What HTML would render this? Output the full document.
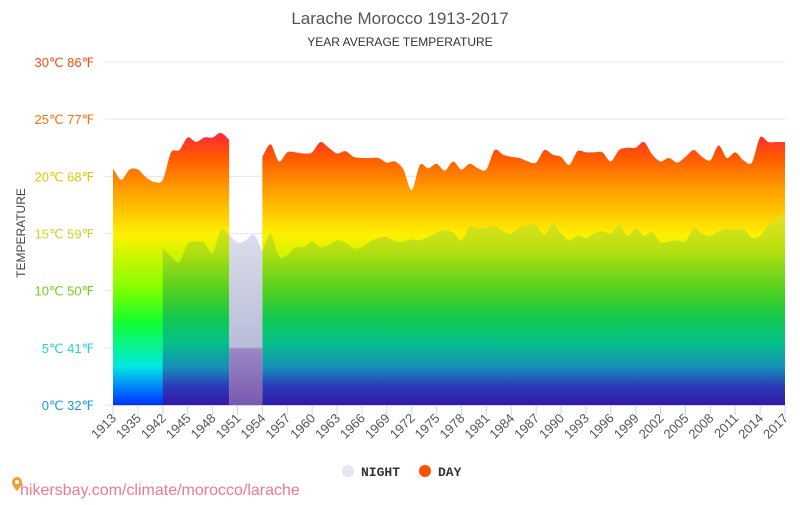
<!DOCTYPE html>
<html><head><meta charset="utf-8"><style>
body{margin:0;background:#fff;width:800px;height:500px;overflow:hidden;font-family:"Liberation Sans",sans-serif}
</style></head><body>
<svg id="chart" width="800" height="500" xmlns="http://www.w3.org/2000/svg" font-family="Liberation Sans, sans-serif">
<defs>
<linearGradient id="gDay" gradientUnits="userSpaceOnUse" x1="0" y1="405" x2="0" y2="130">
<stop offset="0" stop-color="#0030ff"/><stop offset="0.05" stop-color="#0070ff"/><stop offset="0.14" stop-color="#00e8e0"/><stop offset="0.3" stop-color="#10ff30"/><stop offset="0.42" stop-color="#80ff00"/><stop offset="0.62" stop-color="#fff000"/><stop offset="0.78" stop-color="#ffa000"/><stop offset="0.9" stop-color="#ff5a00"/><stop offset="1" stop-color="#ff2040"/>
</linearGradient>
<linearGradient id="gNight" gradientUnits="userSpaceOnUse" x1="0" y1="405" x2="0" y2="215">
<stop offset="0" stop-color="#3318a8"/><stop offset="0.1" stop-color="#2a3cb8"/><stop offset="0.2" stop-color="#1590b8"/><stop offset="0.33" stop-color="#05c08a"/><stop offset="0.45" stop-color="#10c850"/><stop offset="0.6" stop-color="#50d020"/><stop offset="0.82" stop-color="#b8e010"/><stop offset="1" stop-color="#e8e020"/>
</linearGradient>
<linearGradient id="gGrey" gradientUnits="userSpaceOnUse" x1="0" y1="405" x2="0" y2="230">
<stop offset="0" stop-color="#7a58b0"/><stop offset="0.32" stop-color="#9a88c4"/><stop offset="0.33" stop-color="#b8bcd8"/><stop offset="1" stop-color="#dcdfeb"/>
</linearGradient>
</defs>
<text x="400" y="24" text-anchor="middle" font-size="17" fill="#555">Larache Morocco 1913-2017</text>
<text x="400" y="46" text-anchor="middle" font-size="12" fill="#333">YEAR AVERAGE TEMPERATURE</text>
<text transform="translate(25,233) rotate(-90)" text-anchor="middle" font-size="12" fill="#444">TEMPERATURE</text>
<g id="grid"></g><g id="areas"></g><g id="xaxis"></g><g id="yaxis"></g>
<g>
<g><circle cx="348" cy="471" r="6" fill="#e4e7f0"/><text x="361" y="476" font-size="13" font-weight="bold" fill="#333" font-family="Liberation Mono, monospace">NIGHT</text></g>
<g><circle cx="425" cy="471" r="6" fill="#ff5000"/><text x="438" y="476" font-size="13" font-weight="bold" fill="#333" font-family="Liberation Mono, monospace">DAY</text></g>
</g>
<g><path d="M12 482a5 5 0 0 1 10 0c0 4-5 9-5 9s-5-5-5-9z" fill="#f0a030"/><circle cx="17" cy="482" r="2" fill="#fff"/><text x="20" y="495" font-size="16" fill="#f07890">hikersbay.com/climate/morocco/larache</text></g>
</svg>
<script>
const tickLabels=["1913","1935","1942","1945","1948","1951","1954","1957","1960","1963","1966","1969","1972","1975","1978","1981","1984","1987","1990","1993","1996","1999","2002","2005","2008","2011","2014","2017"];
const categories=["1913","1914","1915","1935","1936","1937"];
for(let y=1942;y<=2017;y++)categories.push(String(y));
const dayValues=[20.7,19.7,20.6,20.6,19.9,19.5,19.7,22.1,22.3,23.4,23.0,23.4,23.4,23.8,23.2,null,null,null,21.7,22.8,21.3,22.1,22.1,22.0,22.1,23.0,22.5,22.0,22.2,21.7,21.6,21.6,21.6,21.2,21.3,20.6,18.8,21.0,20.7,21.1,20.5,21.3,20.6,21.1,20.7,20.6,22.3,21.9,21.7,21.6,21.3,21.2,22.3,21.9,21.7,21.0,22.2,22.1,22.1,22.1,21.3,22.3,22.5,22.5,23.0,21.9,21.3,21.6,21.2,21.7,22.3,21.7,21.4,22.7,21.6,22.1,21.4,21.2,23.4,23.0,23.0,23.0];
const nightValues=[null,null,null,null,null,null,13.7,13.0,12.5,14.1,14.3,14.2,13.3,15.3,14.9,14.2,14.4,14.9,13.4,15.0,13.0,13.1,13.8,13.8,14.3,13.8,14.0,14.4,14.2,13.7,13.8,14.3,14.6,14.7,14.3,14.3,14.5,14.4,14.7,15.1,15.3,15.1,14.4,15.6,15.5,15.5,15.7,15.2,15.0,15.5,15.7,15.7,14.9,15.9,15.0,14.4,14.8,14.6,15.0,15.2,15.0,15.7,14.8,15.4,14.8,15.1,14.2,14.3,14.4,14.3,15.5,15.0,14.8,15.2,15.4,15.3,15.4,14.6,14.8,15.7,16.2,16.8];
const yTicks=[0,5,10,15,20,25,30];
const yColors=["#1a9be0","#20d8d0","#70d020","#c8d820","#e0c800","#ff7010","#ff4a10"];
const NS="http://www.w3.org/2000/svg";
const X0=113,X1=785,Y0=405,Y1=62;
const xs=i=>X0+(X1-X0)*i/(categories.length-1);
const ys=v=>Y0-(Y0-Y1)*v/30;
function el(t,a,p){const e=document.createElementNS(NS,t);for(const k in a)e.setAttribute(k,a[k]);p.appendChild(e);return e;}
function curve(pts){let d="M"+pts[0][0]+","+pts[0][1];for(let i=0;i<pts.length-1;i++){const p0=pts[i-1]||pts[i],p1=pts[i],p2=pts[i+1],p3=pts[i+2]||p2;const t=0.3;d+=" C"+(p1[0]+(p2[0]-p0[0])*t/2)+","+(p1[1]+(p2[1]-p0[1])*t/2)+" "+(p2[0]-(p3[0]-p1[0])*t/2)+","+(p2[1]-(p3[1]-p1[1])*t/2)+" "+p2[0]+","+p2[1];}return d;}
function segs(vals,test){const out=[];let cur=[];vals.forEach((v,i)=>{if(v!=null&&test(i)){cur.push(i);}else{if(cur.length)out.push(cur);cur=[];}});if(cur.length)out.push(cur);return out;}
function area(idx,vals,fill,name,g){const pts=idx.map(i=>[xs(i),ys(vals[i])]);const d=curve(pts)+" L"+pts[pts.length-1][0]+","+Y0+" L"+pts[0][0]+","+Y0+"Z";const p=el("path",{d:d,fill:fill},g);

}
const grid=document.getElementById("grid"),areas=document.getElementById("areas"),xa=document.getElementById("xaxis"),ya=document.getElementById("yaxis");
yTicks.forEach((v,k)=>{const l=el("line",{x1:105,x2:785,y1:ys(v),y2:ys(v),stroke:"#e6e6e6"},grid);


const t=el("text",{x:94,y:ys(v)+5,"text-anchor":"end","font-size":13,fill:yColors[k]},ya);t.textContent=v+"℃ "+Math.round(v*9/5+32)+"℉";

});
segs(dayValues,()=>true).forEach(s=>area(s,dayValues,"url(#gDay)","day-area",areas));
segs(nightValues,i=>dayValues[i]!=null).forEach(s=>area(s,nightValues,"url(#gNight)","night-area",areas));
segs(nightValues,i=>dayValues[i]==null||dayValues[i-1]==null||dayValues[i+1]==null).forEach(s=>{if(s.some(i=>dayValues[i]==null))area(s,nightValues,"url(#gGrey)","night-area-gap",areas);});
el("line",{x1:X0,x2:X1,y1:Y0+0.5,y2:Y0+0.5,stroke:"#ccd6eb"},xa);
tickLabels.forEach((lab,k)=>{const x=X0+(X1-X0)*k/(tickLabels.length-1);
const tk=el("line",{x1:x,x2:x,y1:Y0,y2:Y0+10,stroke:"#ccd6eb"},xa);


const t=el("text",{x:x+4,y:Y0+14,"text-anchor":"end","font-size":13,fill:"#555",transform:"rotate(-45 "+(x+4)+" "+(Y0+14)+")"},xa);t.textContent=lab;

});
</script>
</body></html>
